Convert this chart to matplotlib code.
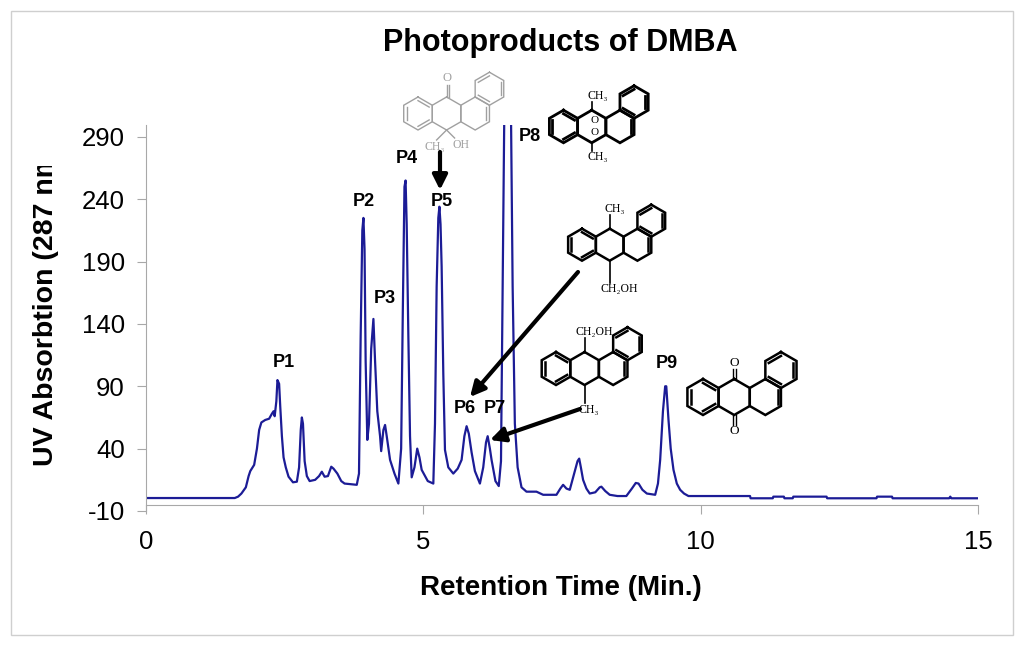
#!/usr/bin/env python
import numpy as np
import matplotlib
matplotlib.use("Agg")
import matplotlib.pyplot as plt
from matplotlib.patches import Rectangle
from matplotlib.transforms import Bbox, TransformedBbox, IdentityTransform

plt.rcParams['font.family'] = ['Liberation Sans', 'DejaVu Sans']
plt.rcParams['axes.unicode_minus'] = False

# chromatogram trace (time in min, absorbance)
time = [0.00, 1.60, 1.66, 1.72, 1.80, 1.85, 1.88, 1.95, 2.00, 2.04, 2.08, 2.15,
        2.22, 2.27, 2.30, 2.32, 2.35, 2.37, 2.40, 2.42, 2.45, 2.48, 2.52, 2.57,
        2.65, 2.72, 2.76, 2.79, 2.81, 2.83, 2.86, 2.90, 2.95, 3.05, 3.12, 3.17,
        3.22, 3.28, 3.34, 3.38, 3.45, 3.52, 3.58, 3.80, 3.84, 3.87, 3.90, 3.92,
        3.94, 3.96, 3.99, 4.02, 4.06, 4.10, 4.13, 4.17, 4.22, 4.24, 4.28, 4.31,
        4.34, 4.40, 4.48, 4.55, 4.60, 4.63, 4.66, 4.68, 4.70, 4.73, 4.76, 4.79,
        4.84, 4.89, 4.93, 4.97, 5.08, 5.18, 5.21, 5.24, 5.27, 5.29, 5.31, 5.33,
        5.36, 5.39, 5.45, 5.54, 5.62, 5.69, 5.74, 5.78, 5.82, 5.87, 5.93, 6.02,
        6.08, 6.13, 6.16, 6.20, 6.23, 6.30, 6.36, 6.40, 6.43, 6.46, 6.52, 6.58,
        6.61, 6.65, 6.70, 6.77, 6.86, 7.04, 7.16, 7.40, 7.47, 7.52, 7.58, 7.64,
        7.72, 7.78, 7.81, 7.84, 7.88, 7.94, 8.00, 8.10, 8.18, 8.21, 8.28, 8.36,
        8.50, 8.66, 8.76, 8.83, 8.88, 8.95, 9.03, 9.18, 9.23, 9.27, 9.32, 9.36,
        9.38, 9.42, 9.46, 9.51, 9.57, 9.63, 9.70, 9.78, 10.89, 10.90, 11.30, 11.31,
        11.50, 11.51, 11.66, 11.67, 12.27, 12.28, 13.17, 13.18, 13.45, 13.46, 14.48, 14.50,
        14.52, 15.00]
absorb = [0.4, 0.4, 1.5, 4, 9, 18, 22, 27, 40, 55, 61, 63,
          64, 68, 70, 66, 78, 95, 92, 74, 50, 33, 25, 17.5,
          13, 13.5, 25, 55, 65, 60, 30, 18, 14, 15, 18, 21.5,
          17.5, 18, 25.5, 24, 20, 14, 12, 11, 20, 130, 215, 225,
          200, 110, 47, 60, 120, 144, 110, 70, 50, 38, 55, 59,
          50, 31, 20, 12, 40, 150, 250, 255, 220, 130, 50, 17,
          25, 40, 33, 23, 14, 12, 60, 170, 225, 234, 220, 186,
          100, 39, 25, 20, 24, 31, 50, 58, 52, 37, 22, 12,
          25, 45, 50, 40, 31, 14, 10, 30, 170, 310, 420, 310,
          170, 60, 25, 9, 5.5, 5.5, 3, 3, 8, 11, 8, 7,
          20, 30, 32, 25, 15, 8, 4, 5, 9, 9.5, 6, 3,
          2, 2, 8, 12.5, 12, 7, 4, 3, 12, 31, 70, 90,
          90, 63, 40, 23, 12, 7, 4, 2, 2, 0.2, 0.2, 1.5,
          1.5, 0.2, 0.2, 1.5, 1.5, 0.2, 0.2, 1.5, 1.5, 0.2, 0.2, 1.5,
          0.2, 0.2]

peak_names = ['P1', 'P2', 'P3', 'P4', 'P5', 'P6', 'P7', 'P8', 'P9']
peak_label_t = [2.49, 3.92, 4.30, 4.70, 5.33, 5.75, 6.29, 6.92, 9.39]
peak_label_v = [109, 238, 160, 273, 238, 72, 72, 290, 108]

x_ticks = [0, 5, 10, 15]
y_ticks = [-10, 40, 90, 140, 190, 240, 290]

line_col = '#1c1c96'
axis_col = '#a8a8a8'

fig = plt.figure(figsize=(10.24, 6.46), dpi=100)
ax = fig.add_axes([146 / 1024, (646 - 511) / 646, 832 / 1024, 386 / 646])
ax.plot(time, absorb, color=line_col, lw=1.6)
ax.set_xlim(0, 15)
ax.set_ylim(-10, 299.5)
ax.set_xticks(x_ticks)
ax.set_yticks(y_ticks)
ax.spines['top'].set_visible(False)
ax.spines['right'].set_visible(False)
ax.spines['left'].set_color(axis_col)
ax.spines['bottom'].set_color(axis_col)
ax.spines['bottom'].set_position(('data', -5))
ax.tick_params(axis='both', direction='out', length=6.3, color=axis_col,
               labelsize=18.5, labelcolor='black')
ax.tick_params(axis='x', pad=12)
ax.tick_params(axis='y', pad=9)
ax.patch.set_visible(False)

for name, t, v in zip(peak_names, peak_label_t, peak_label_v):
    ax.text(t, v, name, ha='center', va='center', fontsize=13, fontweight='bold')

# overlay in pixel coordinates for title, labels, structures and arrows
ov = fig.add_axes([0, 0, 1, 1])
ov.set_xlim(0, 1024)
ov.set_ylim(646, 0)
ov.axis('off')
ov.patch.set_visible(False)

ov.add_patch(Rectangle((11, 11), 1002, 624, fill=False, edgecolor='#cfcfcf', lw=1))
ov.text(560, 43, 'Photoproducts of DMBA', ha='center', va='center',
        fontsize=22, fontweight='bold')
ov.text(561, 588, 'Retention Time (Min.)', ha='center', va='center',
        fontsize=20, fontweight='bold')
# the label is cut off at the top in the original
ylab = ov.text(46, 466, 'UV Absorbtion (287 nm)', rotation=90, rotation_mode='anchor',
               ha='left', va='center', fontsize=20.5, fontweight='bold')
ylab.set_clip_box(TransformedBbox(Bbox([[0, 0], [1024, 646 - 166]]), IdentityTransform()))
ylab.set_clip_on(True)

serif = ['Liberation Serif', 'DejaVu Serif']


def hexagon(cx, cy, r):
    ang = np.radians([90, 150, 210, 270, 330, 30, 90])
    return cx + r * np.cos(ang), cy - r * np.sin(ang)


def skeleton(x0, y0, r, col, lw, doubles=True):
    s = np.sqrt(3) * r
    centers = [(x0, y0), (x0 + s, y0), (x0 + 2 * s, y0), (x0 + 2.5 * s, y0 - 1.5 * r)]
    for cx, cy in centers:
        hx, hy = hexagon(cx, cy, r)
        ov.plot(hx, hy, color=col, lw=lw, solid_joinstyle='miter')
    if doubles:
        # inner lines for some double bonds
        inner = {0: [1, 3, 5], 2: [4], 3: [0, 2, 4]}
        for ring, edges in inner.items():
            cx, cy = centers[ring]
            hx, hy = hexagon(cx, cy, r * 0.78)
            for e in edges:
                ov.plot(hx[e:e + 2], hy[e:e + 2], color=col, lw=lw)
    return x0 + s, y0 - r, y0 + r


def struct_label(x, y, txt, col, size=8.5):
    ov.text(x, y, txt, ha='center', va='center', fontsize=size, color=col, family=serif)


# P5 structure (grey)
g = '#a0a0a0'
mx, top, bot = skeleton(418, 113.5, 16.5, g, 1.0)
ov.plot([mx, mx], [top, top - 12], color=g, lw=1.0)
ov.plot([mx + 2.5, mx + 2.5], [top, top - 12], color=g, lw=1.0)
struct_label(mx, top - 19, 'O', g, 9)
ov.plot([mx, mx - 10], [bot, bot + 10], color=g, lw=1.0)
ov.plot([mx, mx + 8], [bot, bot + 8], color=g, lw=1.0)
struct_label(mx - 12, bot + 17, 'CH₃', g)
struct_label(mx + 14, bot + 15, 'OH', g)

# P8 structure
mx, top, bot = skeleton(563.5, 126.5, 16.3, 'black', 2.0)
ov.plot([mx, mx], [top, top - 8], color='black', lw=1.2)
ov.plot([mx, mx], [bot, bot + 8], color='black', lw=1.2)
struct_label(mx + 6, top - 14, 'CH₃', 'black')
struct_label(mx + 6, bot + 14, 'CH₃', 'black')
struct_label(mx + 3, 126.5 - 6, 'O', 'black', 8)
struct_label(mx + 3, 126.5 + 6, 'O', 'black', 8)

# P6 structure
mx, top, bot = skeleton(582, 244.7, 16, 'black', 1.8)
ov.plot([mx, mx], [top, top - 14], color='black', lw=1.2)
ov.plot([mx, mx], [bot, bot + 22], color='black', lw=1.2)
struct_label(mx + 5, top - 20, 'CH₃', 'black')
struct_label(mx + 10, bot + 28, 'CH₂OH', 'black')

# P7 structure
mx, top, bot = skeleton(556, 368.5, 16.5, 'black', 1.8)
ov.plot([mx, mx], [top, top - 14], color='black', lw=1.2)
ov.plot([mx, mx], [bot, bot + 18], color='black', lw=1.2)
struct_label(mx + 10, top - 20, 'CH₂OH', 'black')
struct_label(mx + 4, bot + 25, 'CH₃', 'black')

# P9 structure
mx, top, bot = skeleton(703, 397, 18, 'black', 1.8)
for dx in (-1.5, 1.5):
    ov.plot([mx + dx, mx + dx], [top, top - 10], color='black', lw=1.0)
    ov.plot([mx + dx, mx + dx], [bot, bot + 10], color='black', lw=1.0)
struct_label(mx, top - 16, 'O', 'black', 9.5)
struct_label(mx, bot + 16, 'O', 'black', 9.5)

# arrows pointing structures to peaks
arrow = dict(arrowstyle='-|>', lw=3, color='black', mutation_scale=22, shrinkA=0, shrinkB=0)
ov.annotate('', xy=(440, 190), xytext=(440, 152), arrowprops=arrow)
ov.annotate('', xy=(470, 397), xytext=(578, 272), arrowprops=arrow)
ov.annotate('', xy=(490, 440), xytext=(580, 409), arrowprops=arrow)

fig.savefig('out.png', dpi=100)
